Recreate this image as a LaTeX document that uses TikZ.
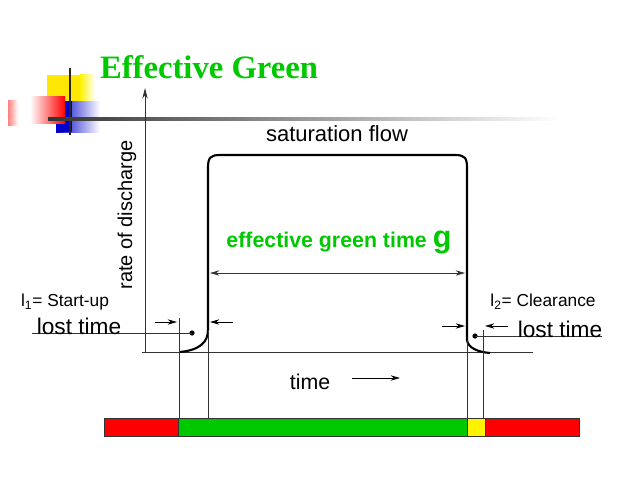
\documentclass[tikz,border=0pt]{standalone}
\usepackage{fontspec}
\setmainfont{Liberation Sans}
\newfontfamily\titlefont{Liberation Serif}
\usetikzlibrary{arrows.meta}
\definecolor{tgreen}{RGB}{0,200,0}
\begin{document}
\begin{tikzpicture}[x=0.75pt,y=-0.75pt,
  thin/.style={line width=0.6pt,black!80},
  curve/.style={line width=1.6pt,black},
  arr/.style={-{Stealth[length=7pt,width=4pt]},line width=0.6pt},
  lbl/.style={inner sep=0pt,anchor=center}]
\useasboundingbox (0,0) rectangle (638,478);
% logo
\fill[yellow!90!orange] (47,75) rectangle (88,112);
\shade[left color=yellow!90!orange,right color=white] (80,75) rectangle (95,100);
\shade[left color=blue!80!black,right color=white] (56,101) rectangle (100,132);
\fill[blue!80!black] (56,101) rectangle (72,132);
\shade[left color=white,right color=red] (30,96) rectangle (65,123);
\shade[left color=red!50,right color=white] (8,100) rectangle (18,125);
\draw[line width=1.5pt,black!85] (70,68) -- (70,135);
\shade[left color=black!80,right color=white] (48,117.5) rectangle (560,120.5);
% title
\node[lbl,text=tgreen,font=\titlefont\bfseries\fontsize{24.5}{26}\selectfont] (title) at (209,67) {Effective Green};
% axes
\coordinate (o) at (145,352);
\coordinate (ytop) at (145,88);
\coordinate (xend) at (533,352);
\draw[thin,-{Stealth[length=8pt,width=4pt]}] (o) -- (ytop);
\draw[thin] (142,352) -- (xend);
\node[lbl,rotate=90,font=\fontsize{15}{17}\selectfont] (ylab) at (127,215) {rate of discharge};
% curve
\draw[curve] (180,352) .. controls (200,350) and (208,342) .. (208,330) -- (208,168)
  .. controls (208,158) and (210,155) .. (220,155) -- (455,155)
  .. controls (465,155) and (467,158) .. (467,168) -- (467,340)
  .. controls (468,348) and (478,352) .. (490,353);
\node[lbl,font=\fontsize{16.5}{18}\selectfont] (sat) at (337,134) {saturation flow};
% effective green
\coordinate (gl) at (210,273);
\coordinate (gr) at (465,273);
\draw[thin,{Stealth[length=7pt,width=4pt]}-{Stealth[length=7pt,width=4pt]}] (gl) -- (gr);
\node[lbl,text=tgreen,font=\bfseries\fontsize{16}{18}\selectfont] (eg) at (339,242) {effective green time \fontsize{23}{24}\selectfont g};
% dots and lost-time lines
\fill (192,333) circle (2.6);
\fill (475,336) circle (2.6);
\coordinate (l1a) at (32,333); \coordinate (l1b) at (192,333);
\coordinate (l2a) at (475,336); \coordinate (l2b) at (602,336);
\draw[thin] (l1a) -- (l1b);
\draw[thin] (l2a) -- (l2b);
% verticals
\draw[thin] (179,318) -- (179,418);
\draw[thin] (208,330) -- (208,418);
\draw[thin] (467,340) -- (467,418);
\draw[thin] (483,330) -- (483,418);
% small arrows
\coordinate (a1) at (155,322); \coordinate (a1e) at (177,322);
\coordinate (a2) at (233,322); \coordinate (a2e) at (210,322);
\coordinate (a3) at (442,326); \coordinate (a3e) at (465,326);
\coordinate (a4) at (508,326); \coordinate (a4e) at (485,326);
\draw[arr] (a1) -- (a1e);
\draw[arr] (a2) -- (a2e);
\draw[arr] (a3) -- (a3e);
\draw[arr] (a4) -- (a4e);
% labels
\node[lbl,font=\fontsize{13}{15}\selectfont] (l1) at (65,302) {l\textsubscript{1}= Start-up};
\node[lbl,font=\fontsize{17}{19}\selectfont] (lt1) at (79,326) {lost time};
\node[lbl,font=\fontsize{13}{15}\selectfont] (l2) at (543,302) {l\textsubscript{2}= Clearance};
\node[lbl,font=\fontsize{17}{19}\selectfont] (lt2) at (560,329) {lost time};
% time
\node[lbl,font=\fontsize{16}{18}\selectfont] (time) at (310,382) {time};
\coordinate (t1) at (352,378); \coordinate (t2) at (400,378);
\draw[arr] (t1) -- (t2);
% bar
\draw[thin,fill=red] (104,418) rectangle (178,436);
\draw[thin,fill=tgreen] (178,418) rectangle (467,436);
\draw[thin,fill=yellow] (467,418) rectangle (485,436);
\draw[thin,fill=red] (485,418) rectangle (579,436);
\end{tikzpicture}
\end{document}
